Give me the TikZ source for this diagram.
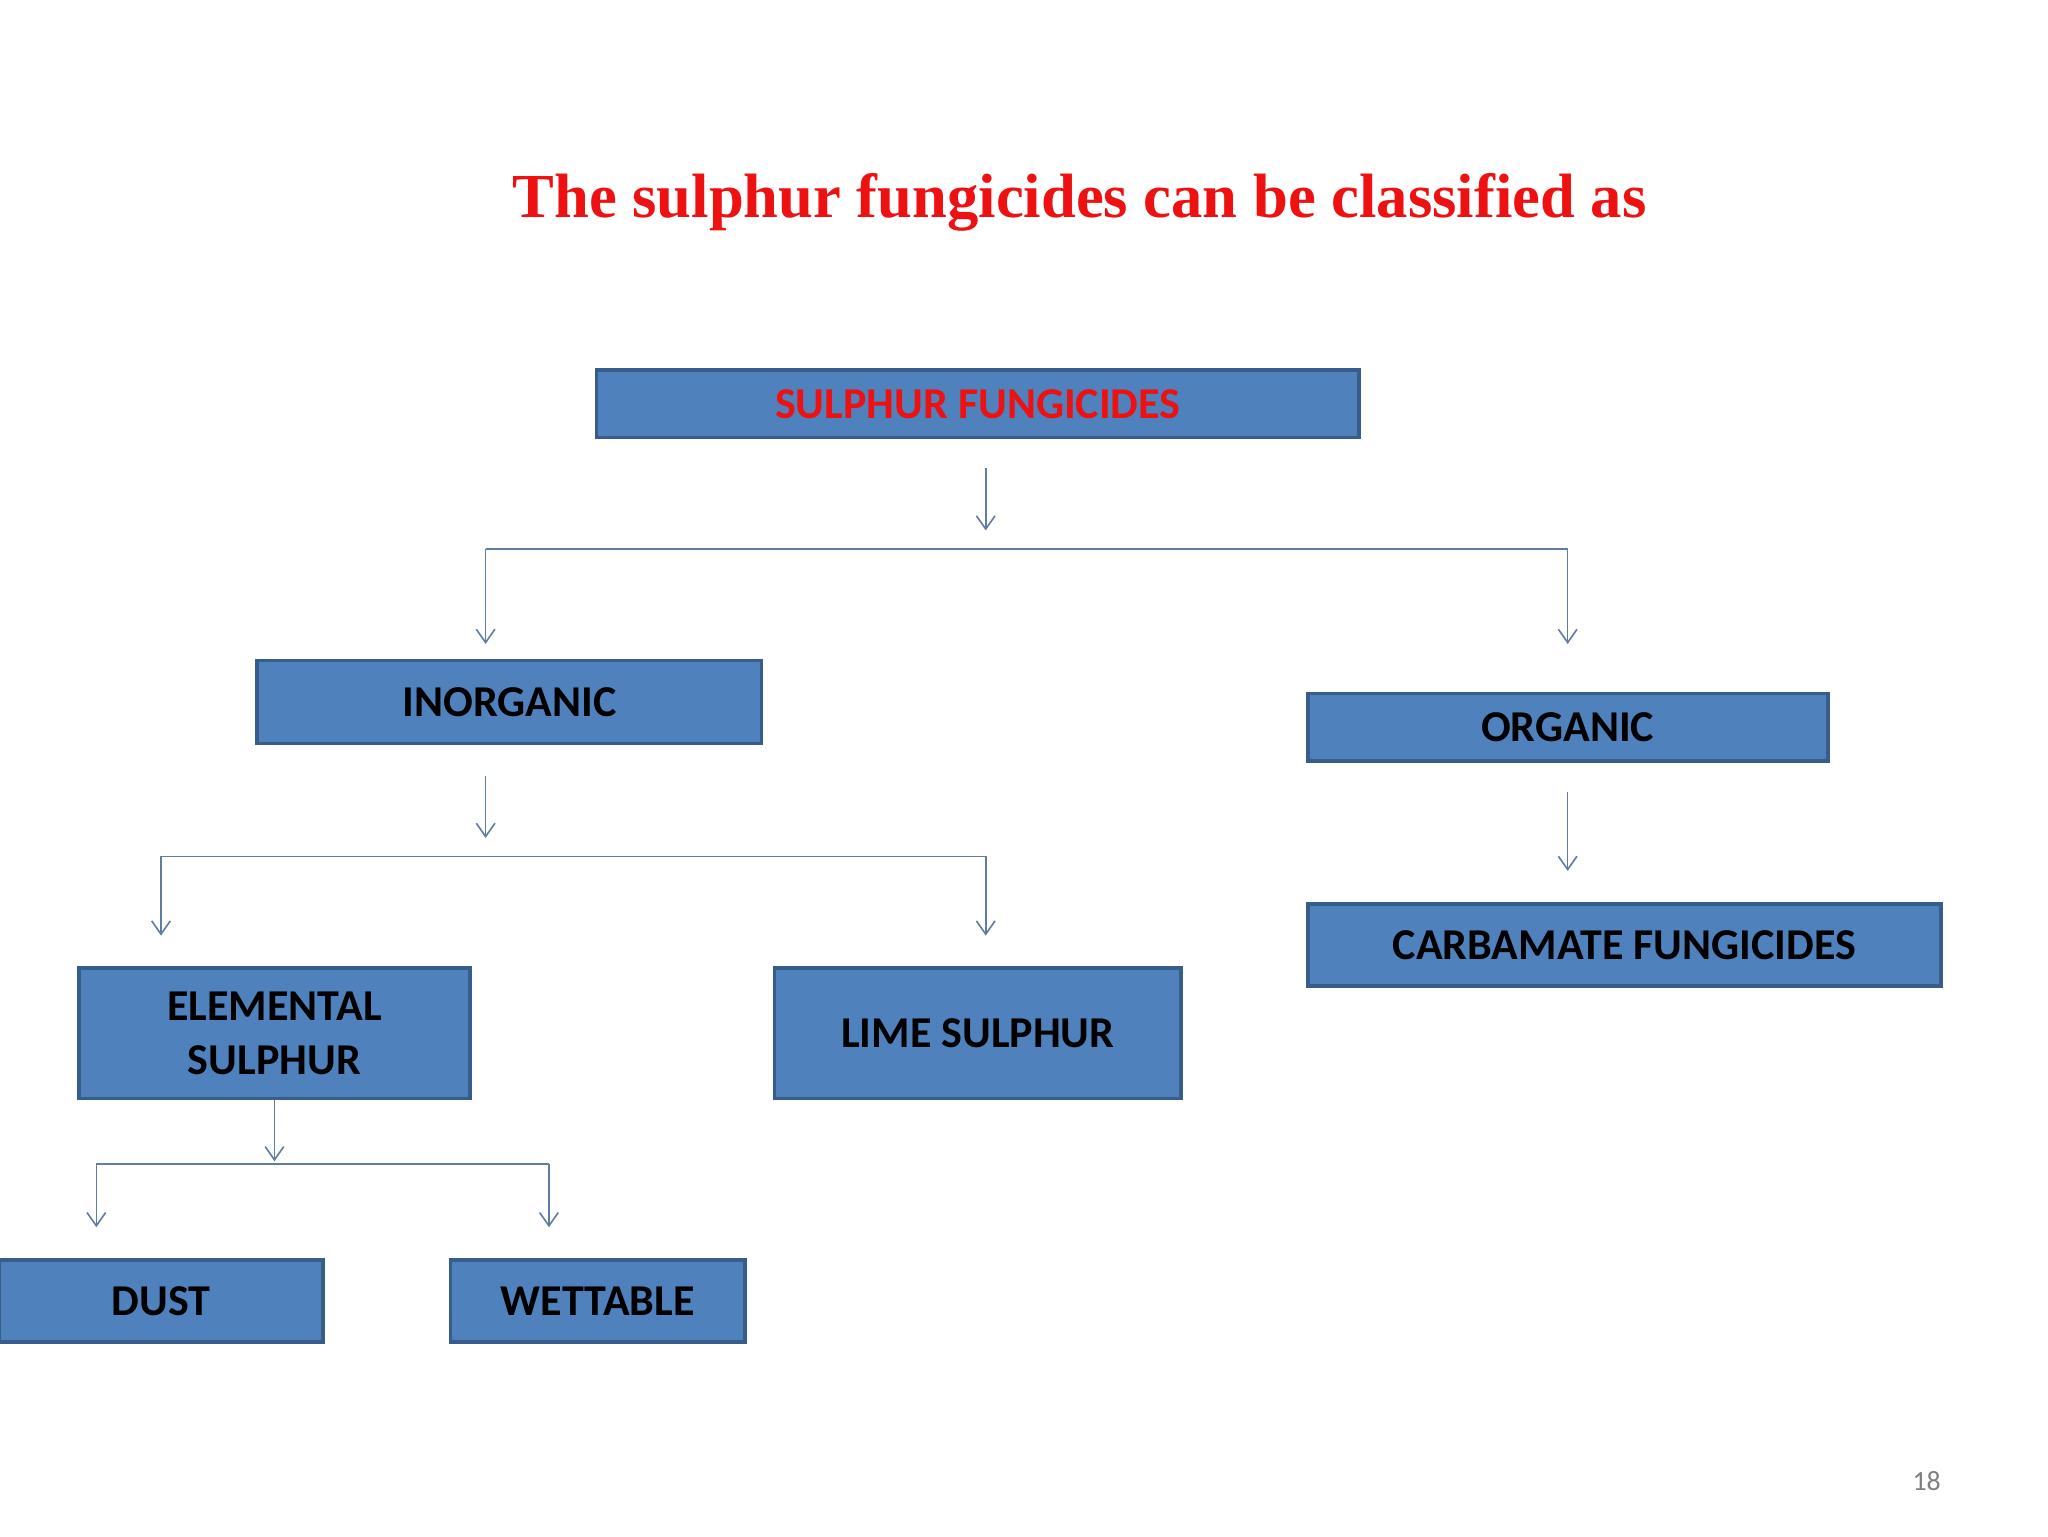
\documentclass[tikz,border=0pt]{standalone}
\usepackage{fontspec}
\setmainfont{Carlito}
\newfontfamily\titlefont{Liberation Serif}
\usetikzlibrary{arrows.meta}
\definecolor{boxfill}{HTML}{4F81BD}
\definecolor{boxline}{HTML}{385D8A}
\definecolor{titlered}{HTML}{EE1111}
\begin{document}
\begin{tikzpicture}[x=0.02cm,y=-0.02cm,
  bx/.style={draw=boxline,line width=1.6pt,fill=boxfill,font=\fontsize{19}{23}\selectfont\bfseries,align=center,inner sep=0pt},
  ar/.style={draw=boxline!80!white,line width=0.7pt,-{Straight Barb[angle=70:7pt]}},
  ln/.style={draw=boxline!80!white,line width=0.7pt}]
\useasboundingbox (0,0) rectangle (1552,1164);
\node[font=\titlefont\fontsize{27}{32}\selectfont\bfseries,text=titlered] (title) at (818,153) {The sulphur fungicides can be classified as};
\node[bx,minimum width=578*0.02cm,minimum height=51*0.02cm,text=titlered] (sf) at (741,306) {SULPHUR FUNGICIDES};
\node[bx,minimum width=382*0.02cm,minimum height=63*0.02cm] (inorg) at (386,532) {INORGANIC};
\node[bx,minimum width=394*0.02cm,minimum height=51*0.02cm] (org) at (1188,551) {ORGANIC};
\node[bx,minimum width=296*0.02cm,minimum height=99*0.02cm] (elem) at (208,783) {ELEMENTAL\\SULPHUR};
\node[bx,minimum width=308*0.02cm,minimum height=99*0.02cm] (lime) at (741,783) {LIME SULPHUR};
\node[bx,minimum width=480*0.02cm,minimum height=62*0.02cm] (carb) at (1231,716) {CARBAMATE FUNGICIDES};
\node[bx,minimum width=246*0.02cm,minimum height=62*0.02cm] (dust) at (122,986) {DUST};
\node[bx,minimum width=223*0.02cm,minimum height=62*0.02cm] (wet) at (453,986) {WETTABLE};
\node[text=gray,font=\fontsize{12}{14}\selectfont] (pg) at (1460,1122) {18};
% level 1
\coordinate (a1s) at (747,355); \coordinate (a1e) at (747,402);
\draw[ar] (a1s) -- (a1e);
\coordinate (h1l) at (368,416); \coordinate (h1r) at (1188,416);
\coordinate (h1le) at (368,488); \coordinate (h1re) at (1188,488);
\draw[ln] (h1l) -- (h1r);
\draw[ar] (h1l) -- (h1le);
\draw[ar] (h1r) -- (h1re);
% inorganic
\coordinate (a2s) at (368,588); \coordinate (a2e) at (368,635);
\draw[ar] (a2s) -- (a2e);
\coordinate (h2l) at (122,649); \coordinate (h2r) at (747,649);
\coordinate (h2le) at (122,709); \coordinate (h2re) at (747,709);
\draw[ln] (h2l) -- (h2r);
\draw[ar] (h2l) -- (h2le);
\draw[ar] (h2r) -- (h2re);
% organic
\coordinate (a3s) at (1188,600); \coordinate (a3e) at (1188,660);
\draw[ar] (a3s) -- (a3e);
% elemental
\coordinate (a4e) at (208,880);
\draw[ar] (elem.south) -- (a4e);
\coordinate (h3l) at (73,882); \coordinate (h3r) at (416,882);
\coordinate (h3le) at (73,930); \coordinate (h3re) at (416,930);
\draw[ln] (h3l) -- (h3r);
\draw[ar] (h3l) -- (h3le);
\draw[ar] (h3r) -- (h3re);
\end{tikzpicture}
\end{document}
